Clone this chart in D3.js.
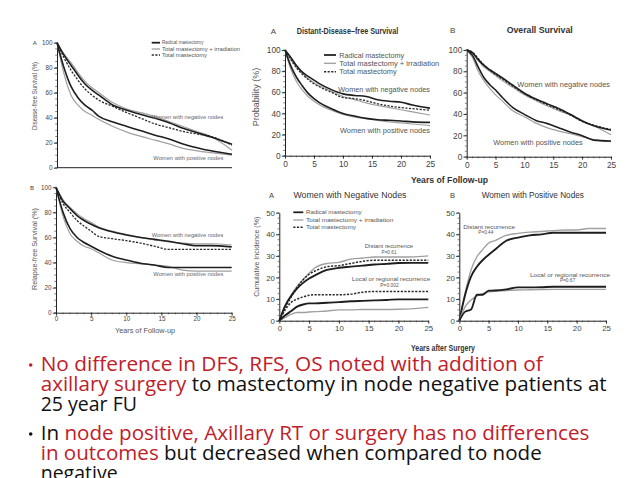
<!DOCTYPE html>
<html><head><meta charset="utf-8">
<script src="https://cdn.jsdelivr.net/npm/d3@7"></script>
<style>body{margin:0;background:#fff}svg{display:block}</style>
</head><body><svg id="c" width="638" height="478"></svg>
<script>
// ---------- data ----------
const years = [0,1,2,3,4,5,6,8,10,12,14,16,18,20,22,25];
const xTicks = [0,5,10,15,20,25];
const survTicks = [0,20,40,60,80,100];
const incTicks = [0,10,20,30,40,50];
const legendLabels = ["Radical mastectomy","Total mastectomy + irradiation","Total mastectomy"];

// Disease-free survival
const dfsNegRadical = [100,90,82,74,67,62,58,50,46,42.5,39.5,36,31.5,28,24.5,18.7];
const dfsNegTMRT    = [100,91,84,76,69,64,60,52,47,44,41,37,33,29,25,14];
const dfsNegTM      = [100,88,78,70,63,58,54,49,44,39.5,35,32,29,27,25,18];
const dfsPosRadical = [100,80,65,56,50,46,41,36.5,33,29.5,26,23,19,16,13.5,10.7];
const dfsPosTMRT    = [100,75,58,50,45,42,38.5,33,28.5,25,22,19,15.5,13.5,12,10];
// Relapse-free survival
const rfsNegRadical = [100,89,83,77.5,73.5,70.5,68,64.5,62,60,58.5,57,55,53.5,53.5,52.5];
const rfsNegTMRT    = [100,90,84,79,75,72,68.5,65,62.5,60,58,56.5,55.5,55,55,54];
const rfsNegTM      = [100,87,80,73.5,69,65,61,59,57.5,55.5,53,50.5,50.5,50.5,50.5,50.5];
const rfsPosRadical = [100,80,67,60,56,53,50,45,42,39.5,38,36,36,36,36,36];
const rfsPosTMRT    = [100,77,63,57,53,51,48,42,40,39,38,37,34,33.2,33.2,33.2];
// Distant-disease-free survival
const ddfsNegRadical = [100,93,85,79,75,71.5,68,62.5,58.5,57,56,53,51.5,50.5,48,45];
const ddfsNegTMRT    = [100,92,84,78,73,69,66,61,56,53,50,47.5,45.5,43.5,41.5,38.5];
const ddfsNegTM      = [100,91,83,77,72,68,65,60,55,54,52,49,47,45.5,44.5,43];
const ddfsPosRadical = [100,85,74,66,59,54,50,44.5,40,37.5,35.3,34,33.5,32.8,32,31.5];
const ddfsPosTMRT    = [100,82,70,62,56,51.5,48,43,39,36.5,35,33.5,32,31,30,28.5];
// Overall survival
const osNegRadical = [100,97.5,91,85.5,81.5,78,74.5,67,59.5,54,49.5,45,39.5,33.5,29,25];
const osNegTMRT    = [100,97,90,84,80,76,72,65,58,52.5,47.5,43,39,34,29,20.5];
const osNegTM      = [100,98,92,86,81,77,73.5,66,59,53.5,48.5,44,39,33,29.5,25.5];
const osPosRadical = [100,95,84,74,67.5,62.5,56.5,46,39.7,34,31,27,23,19.7,15.5,14.7];
const osPosTMRT    = [100,93,80,71,64,58,53,43,37.5,31.5,27,24,21.5,18.8,16,14];
// Cumulative incidence, negative nodes
const negDistRadical = [0,7,11.5,15,17.5,19.5,21,23.5,24.5,25,25.5,26,26.3,26.7,26.8,26.8];
const negDistTMRT    = [0,7,12,16,19,22,24.5,26.5,27,28.5,29,29.5,29.5,29.5,29.5,30];
const negDistTM      = [0,6,11,15.5,19,21.5,23,25,25.5,26.5,27.5,28,28,28,28,28];
const negLocRadical  = [0,2.5,4.5,6.5,7.5,8,8,8.3,8.6,9,9.2,9.4,9.6,9.9,9.9,9.9];
const negLocTMRT     = [0,1.5,3,3.8,3.8,4,4.2,4.5,5,5,5.2,5.2,5.2,5.3,5.5,6.2];
const negLocTM       = [0,5,8.5,10,11,11.8,12,12,12,12.3,13.2,13.5,13.5,13.5,13.5,13.5];
// Cumulative incidence, positive nodes
const posDistRadical = [0,12,20.4,25,28.1,30.5,32.7,37,38.5,39.5,40,40.7,40.7,40.7,40.7,40.7];
const posDistTMRT    = [0,13,23.5,29.6,33,36,37,39.5,40.4,41,41.3,41.7,42,42,42.7,42.7];
const posLocRadical  = [0,4.2,5.2,12,12,13.9,14,14.5,15.4,15.4,15.5,15.7,15.7,15.7,15.7,15.7];
const posLocTMRT     = [0,6.5,9.6,11.4,12.5,13.4,13.6,14,14.2,14.3,14.4,14.5,14.5,14.5,14.5,14.5];

// ---------- drawing ----------
const svg = d3.select("#c");
const FONT = "'Liberation Sans', Arial, sans-serif";
const STY = {
  rm:  {stroke:"#1e1e1e", w:1.6, dash:null},
  tmrt:{stroke:"#a0a0a0", w:1.2, dash:null},
  tm:  {stroke:"#2a2a2a", w:1.3, dash:"2.2,1.4"}
};

function txt(x, y, s, o) {
  o = o || {};
  const t = svg.append("text").attr("x", x).attr("y", y)
    .attr("font-family", o.family || FONT)
    .attr("font-size", o.size || 7)
    .attr("font-weight", o.weight || "normal")
    .attr("fill", o.fill || "#444")
    .attr("text-anchor", o.anchor || "start")
    .attr("dominant-baseline", "central")
    .text(s);
  if (o.len) t.attr("textLength", o.len).attr("lengthAdjust", "spacingAndGlyphs");
  if (o.rot) t.attr("transform", `rotate(-90,${x},${y})`);
  return t;
}

function panel(o) {
  const x = d3.scaleLinear().domain([0,25]).range([o.x0,o.x1]);
  const y = d3.scaleLinear().domain([0,o.ymax]).range([o.yb,o.yt]);
  const g = svg.append("g");
  g.selectAll(null).data(d3.range(0, o.ymax + 0.01, o.ymax/20)).join("line")
    .attr("x1", o.x0 - 1.8).attr("x2", o.x0)
    .attr("y1", d => y(d)).attr("y2", d => y(d))
    .attr("stroke", "#333").attr("stroke-width", 0.6);
  const yg = g.append("g").attr("transform", `translate(${o.x0},0)`)
    .call(d3.axisLeft(y).tickValues(o.yTicks).tickSize(3.2).tickPadding(1.2).tickSizeOuter(0));
  yg.select(".domain").attr("stroke", "#222").attr("stroke-width", 1);
  yg.selectAll(".tick line").attr("stroke", "#222").attr("stroke-width", 0.9);
  yg.selectAll("text").attr("font-size", o.tf).attr("fill", "#444").attr("font-family", FONT);
  if (o.xLabels) {
    g.selectAll(null).data(d3.range(0, 26)).join("line")
      .attr("x1", d => x(d)).attr("x2", d => x(d))
      .attr("y1", o.yb).attr("y2", o.yb + 1.6)
      .attr("stroke", "#333").attr("stroke-width", 0.6);
    const xg = g.append("g").attr("transform", `translate(0,${o.yb})`)
      .call(d3.axisBottom(x).tickValues(xTicks).tickSize(3).tickPadding(o.xpad).tickSizeOuter(0));
    xg.select(".domain").attr("stroke", "#222").attr("stroke-width", 1);
    xg.selectAll(".tick line").attr("stroke", "#222").attr("stroke-width", 0.9);
    xg.selectAll("text").attr("font-size", o.tf).attr("fill", "#444").attr("font-family", FONT);
  } else {
    g.append("line").attr("x1", o.x0).attr("x2", o.x1).attr("y1", o.yb).attr("y2", o.yb)
      .attr("stroke", "#222").attr("stroke-width", 1);
  }
  const line = d3.line().x((d,i) => x(years[i])).y(d => y(d)).curve(d3.curveMonotoneX);
  o.series.forEach(s => {
    const st = STY[s.k];
    g.append("path").datum(s.v).attr("d", line).attr("fill", "none")
      .attr("stroke", st.stroke).attr("stroke-width", (st.w) * (o.lw || 1))
      .attr("stroke-dasharray", st.dash).attr("stroke-linejoin", "round");
  });
  if (o.legend) {
    const L = o.legend;
    ["rm","tmrt","tm"].forEach((k, i) => {
      const st = STY[k];
      const yy = L.ys[i];
      g.append("line").attr("x1", L.lx0).attr("x2", L.lx1).attr("y1", yy).attr("y2", yy)
        .attr("stroke", st.stroke).attr("stroke-width", st.w * 1.1).attr("stroke-dasharray", st.dash);
      txt(L.tx, yy, legendLabels[i], {size: L.size, fill: "#555", len: L.lens[i]});
    });
  }
}

// Panel 1: Disease-free survival (A)
panel({x0:57, x1:232, yt:42.7, yb:167.7, ymax:100, yTicks:survTicks, tf:6.3, xLabels:false,
  series:[{k:"tmrt",v:dfsNegTMRT},{k:"tm",v:dfsNegTM},{k:"rm",v:dfsNegRadical},
          {k:"tmrt",v:dfsPosTMRT},{k:"rm",v:dfsPosRadical}],
  legend:{lx0:151.7, lx1:160, tx:162, ys:[42.7,49,55], size:4.8, lens:[41.5,78,45]}});
txt(32.7, 42.7, "A", {size:6, fill:"#444"});
txt(34, 96, "Disease-free Survival (%)", {size:6.5, anchor:"middle", rot:true, len:68, fill:"#555"});
txt(151.7, 116.7, "Women with negative nodes", {size:5.5, fill:"#666", len:71.6});
txt(153.3, 157.7, "Women with positive nodes", {size:5.5, fill:"#666", len:70});

// Panel 2: Relapse-free survival (B)
panel({x0:56, x1:231.7, yt:187.3, yb:312.7, ymax:100, yTicks:survTicks, tf:6.3, xLabels:true, xpad:1.2,
  series:[{k:"tmrt",v:rfsNegTMRT},{k:"tm",v:rfsNegTM},{k:"rm",v:rfsNegRadical},
          {k:"tmrt",v:rfsPosTMRT},{k:"rm",v:rfsPosRadical}]});
txt(30, 187.7, "B", {size:6, fill:"#444"});
txt(34, 249, "Relapse-free Survival (%)", {size:6.5, anchor:"middle", rot:true, len:82, fill:"#555"});
txt(151.7, 235, "Women with negative nodes", {size:5.5, fill:"#666", len:71.6});
txt(153.3, 274.3, "Women with positive nodes", {size:5.5, fill:"#666", len:70});
txt(145, 330.3, "Years of Follow-up", {size:7, anchor:"middle", fill:"#555", len:60});

// Panel 3: Distant-disease-free survival
panel({x0:285, x1:430, yt:50, yb:155.7, ymax:100, yTicks:survTicks, tf:8.3, xLabels:true, xpad:2,
  series:[{k:"tmrt",v:ddfsNegTMRT},{k:"tm",v:ddfsNegTM},{k:"rm",v:ddfsNegRadical},
          {k:"tmrt",v:ddfsPosTMRT},{k:"rm",v:ddfsPosRadical}],
  legend:{lx0:324, lx1:336, tx:339.3, ys:[55,63.3,71.7], size:7, lens:[64.7,100,57.4]}});
txt(270.7, 31, "A", {size:8, fill:"#444"});
txt(347.5, 31, "Distant-Disease\u2013free Survival", {size:8.5, anchor:"middle", fill:"#333", len:101.6, weight:"bold"});
txt(256, 97, "Probability (%)", {size:8.5, anchor:"middle", rot:true, len:58.7, fill:"#555"});
txt(338.3, 89, "Women with negative nodes", {size:7.3, fill:"#555", len:91.7});
txt(340, 130, "Women with positive nodes", {size:7.3, fill:"#555", len:90});

// Panel 4: Overall survival
panel({x0:466.7, x1:611, yt:50, yb:156.7, ymax:100, yTicks:survTicks, tf:8.3, xLabels:true, xpad:2,
  series:[{k:"tmrt",v:osNegTMRT},{k:"tm",v:osNegTM},{k:"rm",v:osNegRadical},
          {k:"tmrt",v:osPosTMRT},{k:"rm",v:osPosRadical}]});
txt(450, 30, "B", {size:8, fill:"#444"});
txt(539.7, 30, "Overall Survival", {size:8.5, anchor:"middle", fill:"#333", len:66, weight:"bold"});
txt(517.3, 84, "Women with negative nodes", {size:7.3, fill:"#555", len:92.7});
txt(493.3, 142.7, "Women with positive nodes", {size:7.3, fill:"#555", len:89.4});
txt(449.5, 180, "Years of Follow-up", {size:9, anchor:"middle", fill:"#333", weight:"bold", len:77});

// Panel 5: Women with negative nodes
panel({x0:279.3, x1:428.3, yt:212.7, yb:320.7, ymax:50, yTicks:incTicks, tf:7.8, xLabels:true, xpad:2.2, lw:1.15,
  series:[{k:"tmrt",v:negDistTMRT},{k:"tm",v:negDistTM},{k:"rm",v:negDistRadical},
          {k:"tmrt",v:negLocTMRT},{k:"tm",v:negLocTM},{k:"rm",v:negLocRadical}],
  legend:{lx0:293.3, lx1:303.3, tx:306, ys:[212.3,220,227.3], size:6, lens:[55.7,87.3,50]}});
txt(269, 195, "A", {size:7.5, fill:"#444"});
txt(350, 195, "Women with Negative Nodes", {size:8.5, anchor:"middle", fill:"#333", len:113});
txt(256.7, 256.7, "Cumulative Incidence (%)", {size:8, anchor:"middle", rot:true, len:80, fill:"#555"});
txt(389, 245.7, "Distant recurrence", {size:6, anchor:"middle", fill:"#555", len:48.3});
txt(389, 251.7, "P=0.61", {size:6, anchor:"middle", fill:"#555", len:15});
txt(391, 279, "Local or regional recurrence", {size:6, anchor:"middle", fill:"#555", len:78.3});
txt(389.5, 285, "P=0.002", {size:6, anchor:"middle", fill:"#555", len:18.3});
txt(443, 347.5, "Years after Surgery", {size:8.5, anchor:"middle", fill:"#333", weight:"bold", len:64});

// Panel 6: Women with positive nodes
panel({x0:459.3, x1:606, yt:212.7, yb:320.7, ymax:50, yTicks:incTicks, tf:7.8, xLabels:true, xpad:2.2, lw:1.15,
  series:[{k:"tmrt",v:posDistTMRT},{k:"rm",v:posDistRadical},
          {k:"tmrt",v:posLocTMRT},{k:"rm",v:posLocRadical}]});
txt(450, 195, "B", {size:7.5, fill:"#444"});
txt(532.8, 195, "Women with Positive Nodes", {size:8.5, anchor:"middle", fill:"#333", len:102.3});
txt(463.3, 226.7, "Distant recurrence", {size:6, fill:"#555", len:51.7});
txt(478.3, 231.7, "P=0.44", {size:6, fill:"#555", len:15});
txt(530, 275, "Local or regional recurrence", {size:6, fill:"#555", len:80});
txt(560, 280, "P=0.67", {size:6, fill:"#555", len:15});

// ---------- bullet text ----------
const RED = "#c0202a", BLK = "#111";
const bulletLines = [
  {y:371.3, len:502, bullet:RED, parts:[["No difference in DFS, RFS, OS noted with addition of", RED]]},
  {y:391, len:566, parts:[["axillary surgery", RED],[" to mastectomy in node negative patients at", BLK]]},
  {y:410.5, len:null, parts:[["25 year FU", BLK]]},
  {y:440.3, len:548.6, bullet:BLK, parts:[["In ", BLK],["node positive, Axillary RT or surgery has no differences", RED]]},
  {y:460, len:501, parts:[["in outcomes", RED],[" but decreased when compared to node", BLK]]},
  {y:479.7, len:null, parts:[["negative", BLK]]}
];
bulletLines.forEach(l => {
  if (l.bullet) {
    svg.append("circle").attr("cx", 30.7).attr("cy", l.y - 6.3).attr("r", 1.8).attr("fill", l.bullet);
  }
  const t = svg.append("text").attr("x", 40.7).attr("y", l.y)
    .attr("font-family", "'Open Sans', 'Noto Sans', sans-serif").attr("font-size", 19.5);
  if (l.len) t.attr("textLength", l.len).attr("lengthAdjust", "spacingAndGlyphs");
  l.parts.forEach(p => t.append("tspan").attr("fill", p[1]).text(p[0]));
});
</script>
</body></html>
